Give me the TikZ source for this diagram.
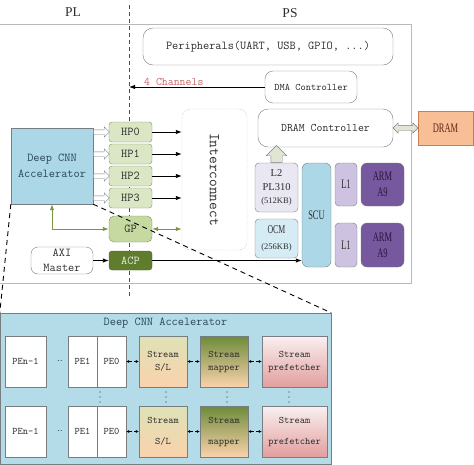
\documentclass[tikz,border=0pt]{standalone}
\usepackage{fontspec}
\newfontfamily\serfont{Liberation Serif}
\newfontfamily\condfont[FakeStretch=0.65]{Liberation Serif}
\usetikzlibrary{arrows.meta,shapes.arrows,calc}

\definecolor{txtgray}{RGB}{45,45,45}
\definecolor{linegray}{RGB}{120,125,130}
\definecolor{framegray}{RGB}{185,185,185}
\definecolor{hpfill}{RGB}{218,230,196}
\definecolor{hpline}{RGB}{125,145,95}
\definecolor{gpfill}{RGB}{198,217,160}
\definecolor{acpfill}{RGB}{95,125,45}
\definecolor{gpgreen}{RGB}{120,150,60}
\definecolor{accfill}{RGB}{172,215,230}
\definecolor{accbig}{RGB}{180,220,232}
\definecolor{accbtxt}{RGB}{40,70,90}
\definecolor{dramfill}{RGB}{248,190,150}
\definecolor{dramline}{RGB}{200,125,85}
\definecolor{dramtxt}{RGB}{90,40,20}
\definecolor{fatfill}{RGB}{225,230,212}
\definecolor{l2fill}{RGB}{233,231,241}
\definecolor{ocmfill}{RGB}{214,236,245}
\definecolor{l1fill}{RGB}{205,195,225}
\definecolor{armfill}{RGB}{118,88,158}
\definecolor{armtxt}{RGB}{40,20,60}
\definecolor{chred}{RGB}{200,100,100}
\definecolor{peach}{RGB}{250,210,172}
\definecolor{slgreen}{RGB}{222,226,182}
\definecolor{mapgreen}{RGB}{108,140,58}
\definecolor{prepink}{RGB}{226,158,158}
\definecolor{prewhite}{RGB}{250,240,240}

\begin{document}
\begin{tikzpicture}[x=1pt,y=-1pt,
    every node/.style={text=txtgray},
    ubox/.style={draw=linegray, fill=white, rounded corners=8pt, inner sep=1pt, align=center,
        font=\ttfamily\fontsize{10}{12}\selectfont},
    hpbox/.style={draw=hpline, fill=hpfill, rounded corners=3pt, inner sep=0pt,
        minimum width=43pt, minimum height=20pt, font=\ttfamily\fontsize{12}{14}\selectfont},
    cbox/.style={draw=linegray, rounded corners=4pt, inner sep=0pt, align=center,
        font=\condfont\fontsize{13}{16}\selectfont},
    pebox/.style={draw=linegray, fill=white, inner sep=0pt, minimum height=51pt,
        font=\ttfamily\fontsize{10}{12}\selectfont},
    sbox/.style={draw=linegray, inner sep=0pt, align=center, minimum width=48pt, minimum height=51pt,
        font=\ttfamily\fontsize{10}{13}\selectfont},
    hollow/.style={single arrow, draw=linegray, fill=white, inner sep=2pt, single arrow head extend=3pt,
        single arrow head indent=0pt, minimum height=16pt, anchor=tail},
    link/.style={-{Latex[length=6pt,width=4.5pt]}, line width=0.9pt},
    glink/.style={{Latex[length=6pt,width=4.5pt]}-{Latex[length=6pt,width=4.5pt]}, draw=gpgreen, line width=1pt},
    dlink/.style={{Latex[length=3pt,width=3pt]}-{Latex[length=3pt,width=3pt]}, densely dashed, line width=0.8pt},
    zoomline/.style={dash pattern=on 5pt off 4pt, line width=0.9pt}
  ]
  \useasboundingbox (0,0) rectangle (474,464);

  % PS frame and PL/PS split
  \draw[framegray, line width=1pt] (0,24) -- (411,24) -- (411,283) -- (0,283);
  \coordinate (divtop) at (129,5);
  \coordinate (divbot) at (129,298);
  \draw[black!70, dash pattern=on 4pt off 3pt, line width=0.8pt] (divtop) -- (divbot);
  \node[font=\serfont\fontsize{13.5}{15}\selectfont] (pl) at (73,12) {PL};
  \node[font=\serfont\fontsize{13.5}{15}\selectfont] (ps) at (290,13) {PS};

  % PS side
  \node[ubox, rounded corners=10pt, minimum width=250pt, minimum height=37pt,
        font=\ttfamily\fontsize{12}{14}\selectfont] (periph) at (268,46.5) {Peripherals(UART, USB, GPIO, ...)};
  \node[ubox, minimum width=92pt, minimum height=32pt] (dma) at (311,87) {DMA Controller};
  \node[ubox, rounded corners=10pt, minimum width=135pt, minimum height=38pt,
        font=\ttfamily\fontsize{11.5}{13}\selectfont] (dramc) at (325.5,128) {DRAM Controller};
  \node[draw=dramline, fill=dramfill, minimum width=55pt, minimum height=34pt, inner sep=0pt,
        text=dramtxt, font=\condfont\fontsize{13}{15}\selectfont] (dram) at (445.5,128) {DRAM};
  \node[ubox, draw=linegray!80, densely dotted, minimum width=65pt, minimum height=141pt] (inter) at (214.5,179.5) {};
  \node[rotate=-90, font=\ttfamily\fontsize{15}{17}\selectfont] (intertxt) at (inter.center) {Interconnect};

  \node[cbox, fill=l2fill, minimum width=43pt, minimum height=49pt, font=\serfont\fontsize{10.5}{13.5}\selectfont] (l2) at (276.5,187.5)
    {L2\\PL310\\\fontsize{8.5}{13.5}\selectfont (512KB)};
  \node[cbox, fill=ocmfill, minimum width=43pt, minimum height=39pt] (ocm) at (276.5,238.5)
    {\fontsize{12}{14}\selectfont OCM\\\serfont\fontsize{8.5}{13}\selectfont (256KB)};
  \node[cbox, fill=accfill, rounded corners=6pt, minimum width=29pt, minimum height=104pt] (scu) at (316.5,215) {SCU};
  \node[cbox, fill=l1fill, minimum width=22pt, minimum height=43pt] (l1a) at (346,184.5) {L1};
  \node[cbox, fill=l1fill, minimum width=22pt, minimum height=44pt] (l1b) at (346,245) {L1};
  \node[cbox, fill=armfill, rounded corners=6pt, minimum width=43pt, minimum height=43pt, text=armtxt] (arma) at (382.5,184.5) {ARM\\A9};
  \node[cbox, fill=armfill, rounded corners=6pt, minimum width=43pt, minimum height=44pt, text=armtxt] (armb) at (382.5,245) {ARM\\A9};

  % PL side
  \node[draw=linegray, fill=accfill, minimum width=82pt, minimum height=76pt, inner sep=0pt, align=center,
        text=accbtxt, font=\ttfamily\fontsize{12}{16}\selectfont] (acc) at (52,166) {Deep CNN\\Accelerator};
  \node[ubox, rounded corners=7pt, minimum width=62pt, minimum height=27pt,
        font=\ttfamily\fontsize{12}{15}\selectfont] (axi) at (62,260.5) {AXI\\Master};
  \node[hpbox] (hp0) at (130.5,132) {HP0};
  \node[hpbox] (hp1) at (130.5,154) {HP1};
  \node[hpbox] (hp2) at (130.5,176) {HP2};
  \node[hpbox] (hp3) at (130.5,198) {HP3};
  \node[hpbox, fill=gpfill, minimum height=26pt, rounded corners=5pt] (gp) at (130.5,229) {GP};
  \node[hpbox, fill=acpfill, draw=acpfill!80!black, minimum height=19pt, text=white!85!acpfill] (acp) at (130.5,260.5) {ACP};

  % connectors
  \foreach \p in {hp0,hp1,hp2,hp3}{
    \node[hollow] (fat-\p) at (acc.east |- \p.west) {};
    \draw[link] (\p.east) -- (\p.east -| inter.west);
  }
  \draw[glink] (gp.east) -- (gp.east -| inter.west);
  \draw[glink] (acc.south) |- (gp.west);
  \draw[link] (axi.east) -- (acp.west);
  \draw[link] (acp.east) -- (acp.east -| scu.west);
  \draw[link] (dma.west) -- (dma.west -| divtop)
    node[pos=0.67, above, inner sep=1pt, text=chred, font=\ttfamily\fontsize{11.5}{13}\selectfont] (chan) {4 Channels};
  \node[double arrow, draw=linegray, fill=fatfill, inner sep=2.5pt, double arrow head extend=2.5pt,
        minimum height=25pt] (dramlink) at ($(dramc.east)!0.5!(dram.west)$) {};
  \node[single arrow, draw=linegray, fill=fatfill, inner sep=5.5pt, single arrow head extend=4.5pt,
        single arrow head indent=0pt, minimum height=16pt, shape border rotate=90, anchor=tail] (l2link) at (l2.north) {};

  % zoomed accelerator
  \node[draw=linegray, fill=accbig, minimum width=331pt, minimum height=151pt, inner sep=0pt] (accbig) at (165.5,388.5) {};
  \node[text=accbtxt, font=\ttfamily\fontsize{12}{14}\selectfont] (acctitle) at (165.5,323) {Deep CNN Accelerator};
  \foreach \r/\y/\g in {a/361.5/0pt, b/431.5/8pt}{
    \node[pebox, minimum width=41pt] (pen\r) at (25.5,\y) {PEn-1};
    \node[pebox, minimum width=29pt] (pe1\r) at (82.5,\y) {PE1};
    \node[pebox, minimum width=29pt] (pe0\r) at (111.5,\y) {PE0};
    \node[font=\ttfamily\fontsize{10}{12}\selectfont] (dots\r) at (60,\y) {$\cdot\cdot$};
    \node[sbox, top color=slgreen, bottom color=peach] (sl\r) at (163,\y) {Stream\\[\g]S/L};
    \node[sbox, top color=mapgreen, bottom color=peach] (map\r) at (224,\y) {Stream\\[\g]mapper};
    \node[sbox, minimum width=65pt, top color=prewhite, bottom color=prepink] (pre\r) at (294.5,\y) {Stream\\[\g]prefetcher};
    \draw[dlink] (pe0\r.east) -- (sl\r.west);
    \draw[dlink] (sl\r.east) -- (map\r.west);
    \draw[dlink] (map\r.east) -- (pre\r.west);
  }
  \foreach \x in {100,166,227,289}
    \foreach \d in {392,397,402}
      \fill[txtgray] (\x,\d) circle (0.6pt);

  % zoom lines
  \draw[zoomline] (acc.south west) -- (accbig.north west);
  \draw[zoomline] (acc.south east) -- (accbig.north east);
\end{tikzpicture}
\end{document}
